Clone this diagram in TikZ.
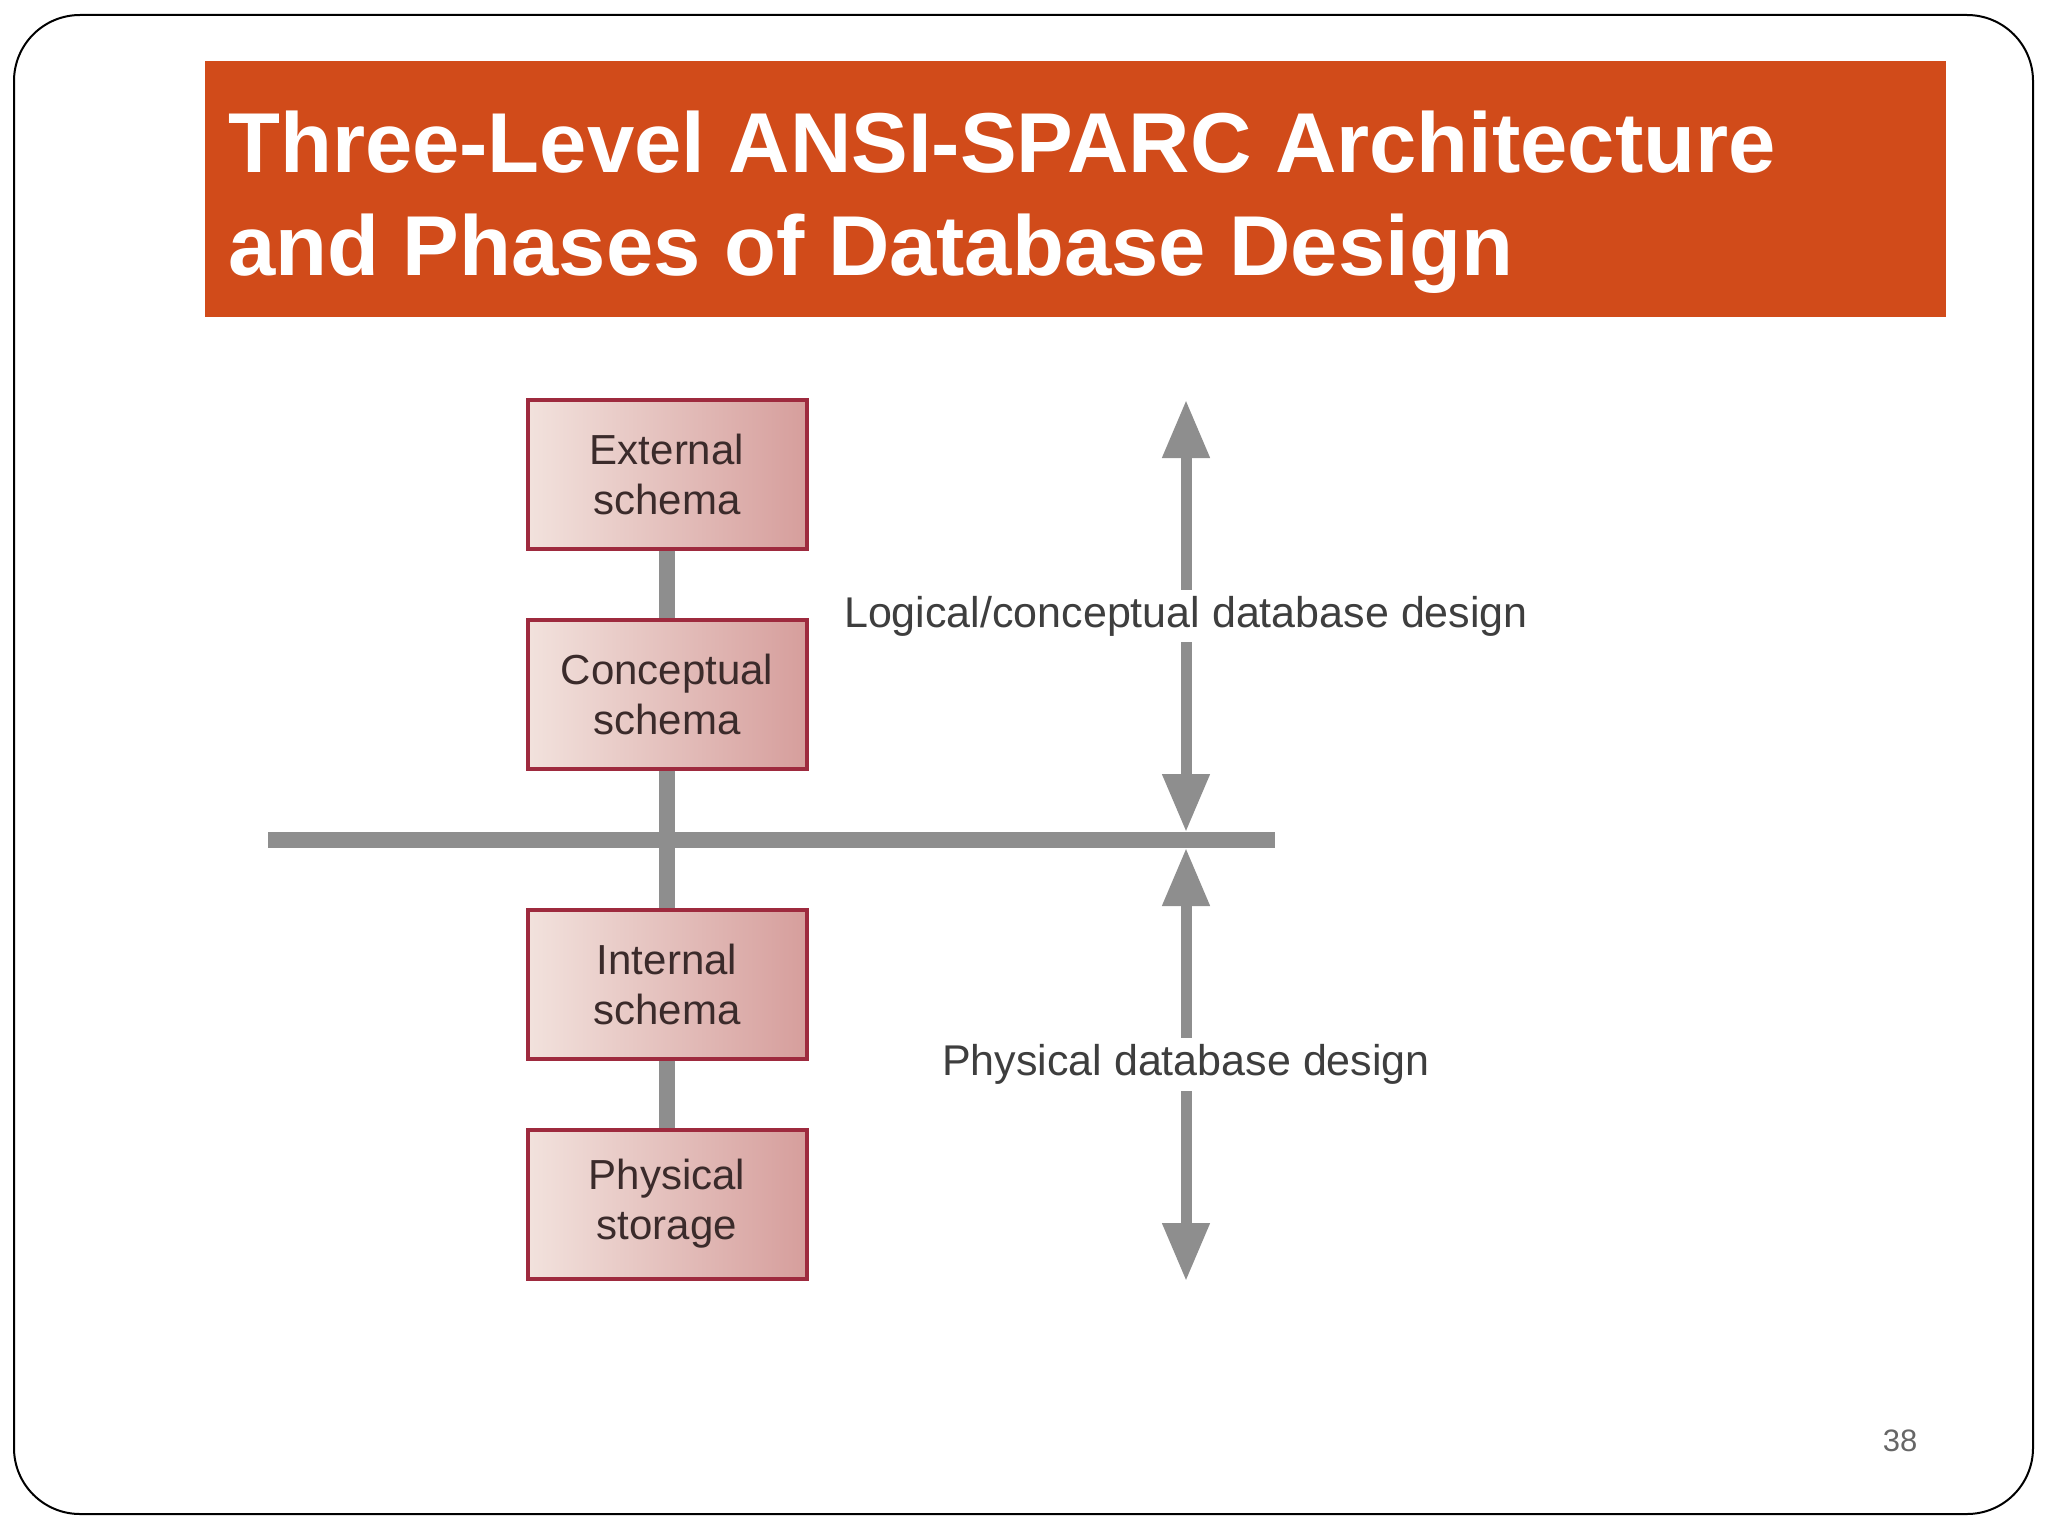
\documentclass[tikz,border=0pt]{standalone}
\usepackage{fontspec}
\setmainfont{Liberation Sans}
\usetikzlibrary{arrows.meta}
\definecolor{titlered}{HTML}{D14B1A}
\definecolor{boxred}{HTML}{9E2A3E}
\definecolor{boxlight}{HTML}{F2E2DD}
\definecolor{boxdark}{HTML}{D69E9C}
\definecolor{boxtext}{HTML}{3B2B2B}
\definecolor{linkgray}{HTML}{8E8E8E}
\definecolor{labelgray}{HTML}{3E3E3E}
\definecolor{numgray}{HTML}{666666}

\begin{document}
\begin{tikzpicture}[x=1pt, y=-1pt,
    schema/.style={draw=boxred, line width=4pt, left color=boxlight, right color=boxdark,
        minimum width=279pt, minimum height=149pt, inner sep=0pt, align=center,
        text=boxtext, font=\fontsize{42}{50}\selectfont},
    link/.style={draw=linkgray, line width=16pt},
    phase/.style={draw=linkgray, line width=11pt,
        {Triangle[width=45pt,length=58pt]}-{Triangle[width=45pt,length=58pt]}},
    phaselabel/.style={fill=white, text=labelgray, inner sep=6pt,
        font=\fontsize{43}{50}\selectfont}]
    \useasboundingbox (0,0) rectangle (2048,1536);
    \draw[line width=2pt, rounded corners=66pt] (14,15) rectangle (2033,1514);

    \node[fill=titlered, minimum width=1741pt, minimum height=256pt, inner sep=0pt,
        anchor=north west] (titlebar) at (205,61) {};
    \node[anchor=north west, align=left, text=white, inner sep=0pt,
        font=\fontsize{85}{103}\selectfont\bfseries] (title) at (228,111)
        {Three-Level ANSI-SPARC Architecture\\and Phases of Database Design};

    \coordinate (rulewest) at (268,840);
    \coordinate (ruleeast) at (1275,840);
    \draw[link] (rulewest) -- (ruleeast);

    \node[schema] (ext) at (667,474) {External\\schema};
    \node[schema] (con) at (667,694) {Conceptual\\schema};
    \node[schema] (int) at (667,984) {Internal\\schema};
    \node[schema] (phy) at (667,1204) {Physical\\storage};
    \foreach \a/\b in {ext/con, con/int, int/phy}
        \draw[link] (\a) -- (\b);

    \coordinate (logtop) at (1186,400);
    \coordinate (logbot) at (1186,832);
    \coordinate (phytop) at (1186,848);
    \coordinate (phybot) at (1186,1281);
    \draw[phase] (logtop) -- (logbot)
        node[midway, phaselabel] (loglabel) {Logical/conceptual database design};
    \draw[phase] (phytop) -- (phybot)
        node[midway, phaselabel] (phylabel) {Physical database design};

    \node[text=numgray, font=\fontsize{31}{36}\selectfont] (pagenum) at (1900,1441) {38};
\end{tikzpicture}
\end{document}
